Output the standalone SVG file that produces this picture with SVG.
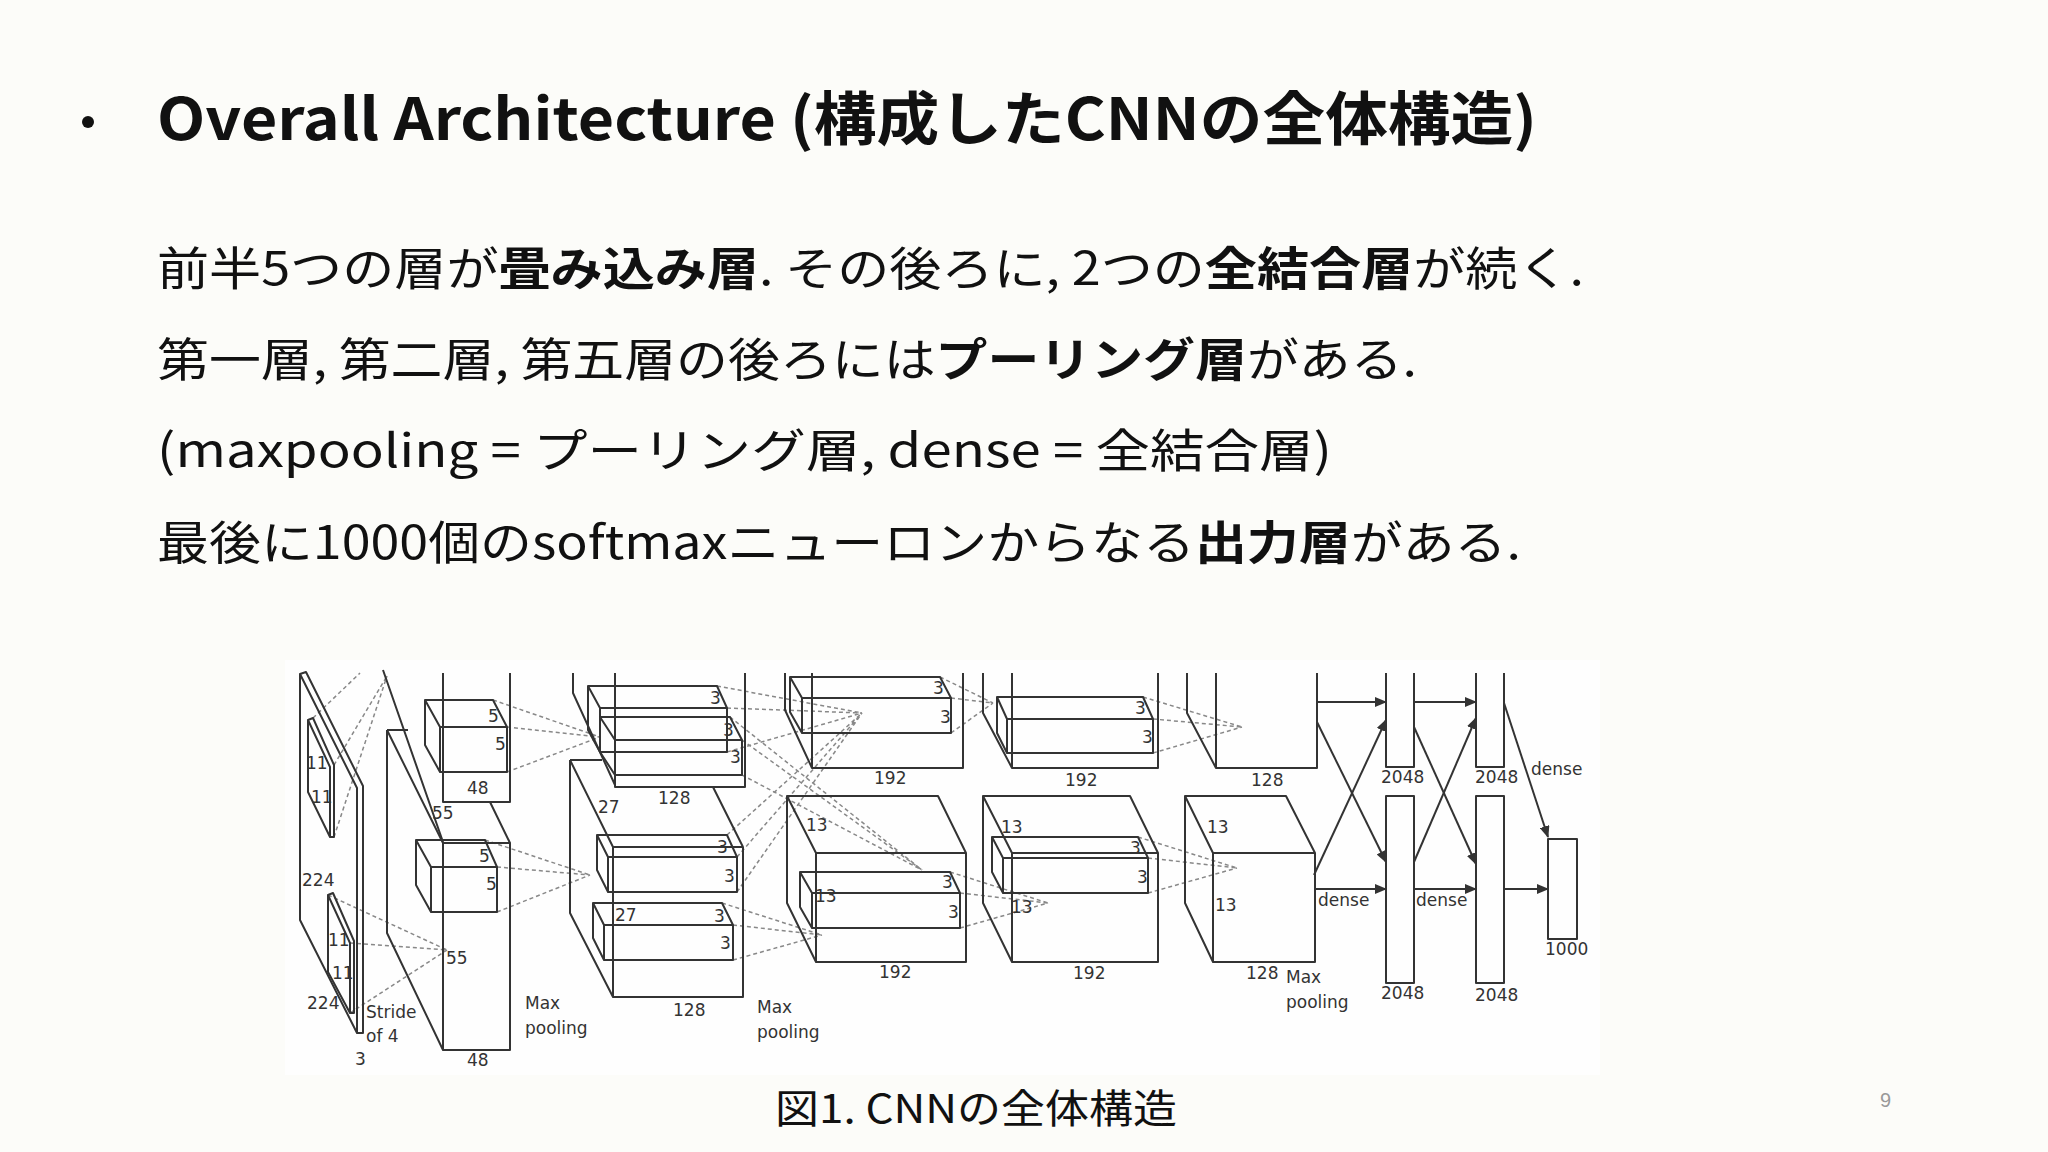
<svg xmlns="http://www.w3.org/2000/svg" width="2048" height="1152" viewBox="0 0 2048 1152">
<style>
.t{font-family:"Noto Sans CJK JP","Noto Sans",sans-serif;fill:#111}
.b{font-weight:700}
.s{fill:none;stroke:#333;stroke-width:2;stroke-linejoin:round}
.d{fill:none;stroke:#888;stroke-width:1.5;stroke-dasharray:4 3}
.l{font-family:"DejaVu Sans",sans-serif;font-size:17px;fill:#333}
.a{fill:none;stroke:#333;stroke-width:2;marker-end:url(#ah)}
</style>
<defs><marker id="ah" markerWidth="12" markerHeight="10" refX="11" refY="5" orient="auto" markerUnits="userSpaceOnUse"><path d="M0,0 L12,5 L0,10 Z" fill="#333"/></marker></defs>
<rect width="2048" height="1152" fill="#fcfcf9"/>
<rect x="285" y="660" width="1315" height="415" fill="#fefefe"/>
<g id="title">
<circle cx="88" cy="122" r="6" fill="#111"/>
<text class="t b" x="157" y="140" font-size="58" textLength="1380" lengthAdjust="spacingAndGlyphs">Overall Architecture (構成したCNNの全体構造)</text>
</g>
<g id="body" font-size="46">
<text class="t" x="157" y="285" font-size="46" textLength="1427" lengthAdjust="spacingAndGlyphs">前半5つの層が<tspan class="b">畳み込み層</tspan>. その後ろに, 2つの<tspan class="b">全結合層</tspan>が続く.</text>
<text class="t" x="157" y="376" font-size="46" textLength="1260" lengthAdjust="spacingAndGlyphs">第一層, 第二層, 第五層の後ろには<tspan class="b">プーリング層</tspan>がある.</text>
<text class="t" x="157" y="467" font-size="46" textLength="1175" lengthAdjust="spacingAndGlyphs">(maxpooling = プーリング層, dense = 全結合層)</text>
<text class="t" x="157" y="559" font-size="46" textLength="1364" lengthAdjust="spacingAndGlyphs">最後に1000個のsoftmaxニューロンからなる<tspan class="b">出力層</tspan>がある.</text>
</g>
<g id="caption">
<text class="t" x="775" y="1123" font-size="40" textLength="402" lengthAdjust="spacingAndGlyphs">図1. CNNの全体構造</text>
<text x="1880" y="1107" font-family="Liberation Sans,sans-serif" font-size="20" fill="#999">9</text>
</g>
<g id="connectors">
<path class="d" d="M313,718 L360,673 M334,765 L387,676 M334,837 L387,676"/>
<path class="d" d="M328,895 L447,950 M350,943 L447,950 M350,1013 L447,950"/>
<path class="d" d="M493,700 L600,737 M507,727 L600,737 M507,772 L600,737"/>
<path class="d" d="M485,840 L590,875 M497,867 L590,875 M497,912 L590,875"/>
<path class="d" d="M717,686 L862,713 M727,708 L862,713 M727,752 L862,713"/>
<path class="d" d="M730,717 L922,870 M742,740 L922,870 M742,775 L922,870"/>
<path class="d" d="M727,835 L862,713 M737,857 L862,713 M737,892 L862,713"/>
<path class="d" d="M722,903 L822,935 M733,925 L822,935 M733,960 L822,935"/>
<path class="d" d="M940,677 L993,703 M951,698 L993,703 M951,733 L993,703"/>
<path class="d" d="M950,872 L1048,903 M960,893 L1048,903 M960,928 L1048,903"/>
<path class="d" d="M1143,697 L1242,727 M1153,719 L1242,727 M1153,753 L1242,727"/>
<path class="d" d="M1138,837 L1237,868 M1148,858 L1237,868 M1148,893 L1237,868"/>
<path class="a" d="M1317,702 L1386,702"/>
<path class="a" d="M1414,702 L1476,702"/>
<path class="a" d="M1317,722 L1386,862"/>
<path class="a" d="M1314,875 L1386,720"/>
<path class="a" d="M1314,889 L1386,889"/>
<path class="a" d="M1414,727 L1476,864"/>
<path class="a" d="M1414,862 L1476,718"/>
<path class="a" d="M1414,889 L1476,889"/>
<path class="a" d="M1504,703 L1548,837"/>
<path class="a" d="M1504,889 L1548,889"/>
</g>
<g id="input">
<path class="s" d="M300,674 L306,672 L363,786 L363,1033 L357,1033 L300,920 Z M300,674 L357,788 L357,1033"/>
<path class="s" d="M308,720 L313,718 L334,765 L334,837 L330,837 L308,792 Z M308,720 L330,767 L330,837"/>
<path class="s" d="M328,895 L333,893 L354,941 L354,1013 L350,1013 L328,972 Z M328,895 L350,943 L350,1013"/>
<text class="l" x="306" y="769">11</text><text class="l" x="311" y="803">11</text>
<text class="l" x="302" y="886">224</text>
<text class="l" x="328" y="946">11</text><text class="l" x="332" y="979">11</text>
<text class="l" x="307" y="1009">224</text>
<text class="l" x="366" y="1018">Stride</text><text class="l" x="366" y="1042">of 4</text>
<text class="l" x="355" y="1065" font-size="15">3</text>
</g>
<g id="conv1">
<path class="s" d="M383,670 L443,842 M443,673 L443,802 L510,802 L510,673 M490,802 L510,843"/>
<path class="s" d="M387,730 L408,730 M387,730 L387,933 L443,1050 L510,1050 L510,843 L443,843 L443,1050 M387,730 L443,843"/>
<path class="s" d="M425,700 L493,700 L507,727 L507,772 L440,772 L425,745 Z M425,700 L440,727 L507,727 M440,727 L440,772"/>
<path class="s" d="M416,840 L485,840 L497,867 L497,912 L431,912 L416,885 Z M416,840 L431,867 L497,867 M431,867 L431,912"/>
<text class="l" x="488" y="722">5</text><text class="l" x="495" y="750">5</text>
<text class="l" x="467" y="794">48</text><text class="l" x="432" y="819">55</text>
<text class="l" x="479" y="862">5</text><text class="l" x="486" y="890">5</text>
<text class="l" x="446" y="964">55</text><text class="l" x="467" y="1066">48</text>
<text class="l" x="525" y="1009">Max</text><text class="l" x="525" y="1034">pooling</text>
</g>
<g id="conv2">
<path class="s" d="M573,673 L573,693 L615,785 M615,673 L615,787 L745,787 L745,673"/>
<path class="s" d="M570,760 L602,760 M570,760 L570,913 L613,997 L743,997 L743,847 L613,847 L613,997 M570,760 L613,847 M713,787 L743,847"/>
<path class="s" d="M588,686 L717,686 L727,708 L727,752 L600,752 L588,730 Z M588,686 L600,708 L727,708 M600,708 L600,752"/>
<path class="s" d="M600,717 L730,717 L742,740 L742,775 L615,775 L600,752 Z M600,717 L615,740 L742,740 M615,740 L615,775"/>
<path class="s" d="M597,835 L727,835 L737,857 L737,892 L608,892 L597,870 Z M597,835 L608,857 L737,857 M608,857 L608,892"/>
<path class="s" d="M593,903 L722,903 L733,925 L733,960 L604,960 L593,938 Z M593,903 L604,925 L733,925 M604,925 L604,960"/>
<text class="l" x="710" y="704">3</text><text class="l" x="723" y="736">3</text><text class="l" x="730" y="763">3</text>
<text class="l" x="658" y="804">128</text><text class="l" x="598" y="813">27</text>
<text class="l" x="717" y="853">3</text><text class="l" x="724" y="882">3</text>
<text class="l" x="615" y="921">27</text><text class="l" x="714" y="922">3</text><text class="l" x="720" y="949">3</text>
<text class="l" x="673" y="1016">128</text>
<text class="l" x="757" y="1013">Max</text><text class="l" x="757" y="1038">pooling</text>
</g>
<g id="conv3">
<path class="s" d="M785,673 L785,710 L812,768 M812,673 L812,768 L963,768 L963,673"/>
<path class="s" d="M790,677 L940,677 L951,698 L951,733 L802,733 L790,712 Z M790,677 L802,698 L951,698 M802,698 L802,733"/>
<path class="s" d="M787,796 L938,796 L966,853 L966,962 L816,962 L787,903 Z M787,796 L816,853 L966,853 M816,853 L816,962"/>
<path class="s" d="M800,872 L950,872 L960,893 L960,928 L812,928 L800,907 Z M800,872 L812,893 L960,893 M812,893 L812,928"/>
<text class="l" x="933" y="694">3</text><text class="l" x="940" y="723">3</text>
<text class="l" x="874" y="784">192</text>
<text class="l" x="806" y="831">13</text><text class="l" x="815" y="902">13</text>
<text class="l" x="942" y="888">3</text><text class="l" x="948" y="918">3</text>
<text class="l" x="879" y="978">192</text>
</g>
<g id="conv4">
<path class="s" d="M983,673 L983,713 L1012,768 M1012,673 L1012,768 L1158,768 L1158,673"/>
<path class="s" d="M997,697 L1143,697 L1153,719 L1153,753 L1007,753 L997,733 Z M997,697 L1007,719 L1153,719 M1007,719 L1007,753"/>
<path class="s" d="M983,796 L1130,796 L1158,853 L1158,962 L1012,962 L983,903 Z M983,796 L1012,853 L1158,853 M1012,853 L1012,962"/>
<path class="s" d="M992,837 L1138,837 L1148,858 L1148,893 L1003,893 L992,872 Z M992,837 L1003,858 L1148,858 M1003,858 L1003,893"/>
<text class="l" x="1135" y="714">3</text><text class="l" x="1142" y="743">3</text>
<text class="l" x="1065" y="786">192</text>
<text class="l" x="1001" y="833">13</text><text class="l" x="1011" y="913">13</text>
<text class="l" x="1130" y="854">3</text><text class="l" x="1137" y="883">3</text>
<text class="l" x="1073" y="979">192</text>
</g>
<g id="conv5">
<path class="s" d="M1187,673 L1187,713 L1216,768 M1216,673 L1216,768 L1317,768 L1317,673"/>
<path class="s" d="M1185,796 L1286,796 L1315,853 L1315,962 L1213,962 L1185,903 Z M1185,796 L1213,853 L1315,853 M1213,853 L1213,962"/>
<text class="l" x="1251" y="786">128</text>
<text class="l" x="1207" y="833">13</text><text class="l" x="1215" y="911">13</text>
<text class="l" x="1246" y="979">128</text>
<text class="l" x="1286" y="983">Max</text><text class="l" x="1286" y="1008">pooling</text>
</g>
<g id="fc">
<path class="s" d="M1386,673 L1386,767 L1414,767 L1414,673"/>
<rect class="s" x="1386" y="796" width="28" height="187"/>
<path class="s" d="M1476,673 L1476,767 L1504,767 L1504,673"/>
<rect class="s" x="1476" y="796" width="28" height="187"/>
<rect class="s" x="1548" y="839" width="29" height="100"/>
<text class="l" x="1381" y="783" font-size="16">2048</text>
<text class="l" x="1381" y="999" font-size="16">2048</text>
<text class="l" x="1475" y="783" font-size="16">2048</text>
<text class="l" x="1475" y="1001" font-size="16">2048</text>
<text class="l" x="1545" y="955" font-size="16">1000</text>
<text class="l" x="1318" y="906">dense</text>
<text class="l" x="1416" y="906">dense</text>
<text class="l" x="1531" y="775">dense</text>
</g>
</svg>
